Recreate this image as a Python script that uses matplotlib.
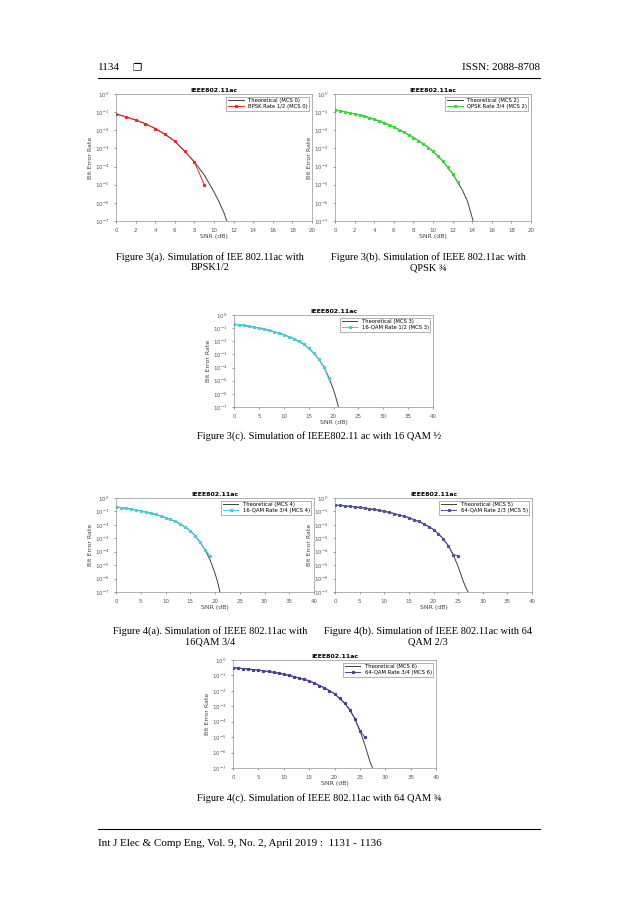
import matplotlib
matplotlib.use("Agg")
import matplotlib.pyplot as plt

W, H = 638, 902

# theoretical curves (SNR dB, BER)
th3a_x = [0, 1, 2, 3, 4, 5, 6, 7, 8, 9, 10, 10.5, 11, 11.3]
th3a_y = [8e-2, 5.5e-2, 3.7e-2, 2.3e-2, 1.25e-2, 6e-3, 2.5e-3, 7e-4, 1.8e-4, 3.5e-5, 4e-6, 1.2e-6, 3e-7, 1e-7]
sim3a_x = [0, 1, 2, 3, 4, 5, 6, 7, 8, 9]
sim3a_y = [8e-2, 5.5e-2, 3.7e-2, 2.3e-2, 1.25e-2, 6e-3, 2.5e-3, 7e-4, 1.8e-4, 1e-5]

th3b_x = [0, 1, 2, 3, 4, 5, 6, 7, 8, 9, 10, 11, 12, 13, 13.5, 14.1]
th3b_y = [1.3e-1, 1.05e-1, 8e-2, 6e-2, 4e-2, 2.6e-2, 1.5e-2, 8e-3, 4e-3, 1.8e-3, 7e-4, 2e-4, 4e-5, 5e-6, 1.3e-6, 1e-7]
sim3b_x = [0, 0.5, 1, 1.5, 2, 2.5, 3, 3.5, 4, 4.5, 5, 5.5, 6, 6.5, 7, 7.5, 8, 8.5, 9, 9.5, 10, 10.5, 11, 11.5, 12, 12.5]
sim3b_y = [1.3e-1, 1.2e-1, 1.05e-1, 9.2e-2, 8e-2, 7e-2, 6e-2, 5e-2, 4e-2, 3.3e-2, 2.6e-2, 2e-2, 1.5e-2, 1.1e-2, 8e-3, 5.7e-3,
           4e-3, 2.7e-3, 1.8e-3, 1.1e-3, 7e-4, 3.8e-4, 2e-4, 9e-5, 4e-5, 1.5e-5]

th3c_x = [0, 2, 4, 6, 8, 10, 12, 14, 15, 16, 17, 18, 19, 20, 20.5, 21]
th3c_y = [2e-1, 1.6e-1, 1.2e-1, 8.5e-2, 5.5e-2, 3.2e-2, 1.6e-2, 6e-3, 3e-3, 1.3e-3, 4.5e-4, 1.2e-4, 2e-5, 2e-6, 5e-7, 1e-7]
sim3c_x = [0, 1, 2, 3, 4, 5, 6, 7, 8, 9, 10, 11, 12, 13, 14, 15, 16, 17, 18, 19]
sim3c_y = [2e-1, 1.8e-1, 1.6e-1, 1.4e-1, 1.2e-1, 1e-1, 8.5e-2, 7e-2, 5.5e-2, 4.3e-2, 3.2e-2, 2.3e-2, 1.6e-2, 1e-2, 6e-3,
           3e-3, 1.3e-3, 4.5e-4, 1.2e-4, 1.5e-5]

th4a_x = [0, 2, 4, 6, 8, 10, 12, 14, 15, 16, 17, 18, 19, 20, 20.5, 21]
th4a_y = [2.2e-1, 1.7e-1, 1.3e-1, 9e-2, 6e-2, 3.5e-2, 1.8e-2, 7e-3, 3.5e-3, 1.5e-3, 5e-4, 1.4e-4, 2.5e-5, 2.5e-6, 6e-7, 1e-7]
sim4a_x = [0, 1, 2, 3, 4, 5, 6, 7, 8, 9, 10, 11, 12, 13, 14, 15, 16, 17, 18, 19]
sim4a_y = [2.2e-1, 1.9e-1, 1.7e-1, 1.5e-1, 1.3e-1, 1.1e-1, 9e-2, 7.5e-2, 6e-2, 4.7e-2, 3.5e-2, 2.6e-2, 1.8e-2, 1.1e-2,
           7e-3, 3.5e-3, 1.5e-3, 5e-4, 1.4e-4, 5e-5]

th4b_x = [0, 3, 6, 9, 12, 15, 18, 20, 22, 23, 24, 25, 26, 26.5, 27]
th4b_y = [3e-1, 2.4e-1, 1.8e-1, 1.2e-1, 7e-2, 3.5e-2, 1.2e-2, 4.5e-3, 9e-4, 2.8e-4, 6e-5, 8e-6, 7e-7, 2.5e-7, 1e-7]
sim4b_x = [0, 1, 2, 3, 4, 5, 6, 7, 8, 9, 10, 11, 12, 13, 14, 15, 16, 17, 18, 19, 20, 21, 22, 23, 24, 25]
sim4b_y = [3e-1, 2.8e-1, 2.6e-1, 2.4e-1, 2.2e-1, 2e-1, 1.8e-1, 1.6e-1, 1.4e-1, 1.2e-1, 1.05e-1, 8.7e-2, 7e-2, 5.5e-2,
           4.4e-2, 3.5e-2, 2.5e-2, 1.8e-2, 1.2e-2, 7.5e-3, 4.5e-3, 2.2e-3, 9e-4, 2.8e-4, 6e-5, 5e-5]

th4c_x = [0, 3, 6, 9, 12, 15, 18, 20, 22, 23, 24, 25, 26, 27, 27.5]
th4c_y = [3.2e-1, 2.6e-1, 2e-1, 1.4e-1, 8.5e-2, 4.5e-2, 1.6e-2, 6.5e-3, 1.6e-3, 6e-4, 1.6e-4, 2.8e-5, 3e-6, 2.5e-7, 1e-7]
sim4c_x = [0, 1, 2, 3, 4, 5, 6, 7, 8, 9, 10, 11, 12, 13, 14, 15, 16, 17, 18, 19, 20, 21, 22, 23, 24, 25, 26]
sim4c_y = [3.2e-1, 3e-1, 2.8e-1, 2.6e-1, 2.4e-1, 2.2e-1, 2e-1, 1.8e-1, 1.6e-1, 1.4e-1, 1.2e-1, 1e-1, 8.5e-2, 6.8e-2,
           5.5e-2, 4.5e-2, 3.2e-2, 2.2e-2, 1.6e-2, 1e-2, 6.5e-3, 3.2e-3, 1.6e-3, 6e-4, 1.6e-4, 2.5e-5, 1e-5]

panels = [
    # (box px: left, top, right, bottom), xmax, xticks step, th, sim, legend labels, colour
    ((116, 94, 312, 221), 20, 2, (th3a_x, th3a_y), (sim3a_x, sim3a_y),
     ("Theoretical (MCS 0)", "BPSK Rate 1/2 (MCS 0)"), "#ff2020"),
    ((335, 94, 531, 221), 20, 2, (th3b_x, th3b_y), (sim3b_x, sim3b_y),
     ("Theoretical (MCS 2)", "QPSK Rate 3/4 (MCS 2)"), "#30e030"),
    ((234, 315, 433, 407), 40, 5, (th3c_x, th3c_y), (sim3c_x, sim3c_y),
     ("Theoretical (MCS 3)", "16-QAM Rate 1/2 (MCS 3)"), "#40d0e0"),
    ((116, 498, 314, 592), 40, 5, (th4a_x, th4a_y), (sim4a_x, sim4a_y),
     ("Theoretical (MCS 4)", "16-QAM Rate 3/4 (MCS 4)"), "#40d0e0"),
    ((335, 498, 532, 592), 40, 5, (th4b_x, th4b_y), (sim4b_x, sim4b_y),
     ("Theoretical (MCS 5)", "64-QAM Rate 2/3 (MCS 5)"), "#5050a0"),
    ((233, 660, 436, 768), 40, 5, (th4c_x, th4c_y), (sim4c_x, sim4c_y),
     ("Theoretical (MCS 6)", "64-QAM Rate 3/4 (MCS 6)"), "#4040a0"),
]

captions = [
    (210, 262, "Figure 3(a). Simulation of IEE 802.11ac with\nBPSK1/2"),
    (428, 262, "Figure 3(b). Simulation of IEEE 802.11ac with\nQPSK ¾"),
    (319, 436, "Figure 3(c). Simulation of IEEE802.11 ac with 16 QAM ½"),
    (210, 636, "Figure 4(a). Simulation of IEEE 802.11ac with\n16QAM 3/4"),
    (428, 636, "Figure 4(b). Simulation of IEEE 802.11ac with 64\nQAM 2/3"),
    (319, 798, "Figure 4(c). Simulation of IEEE 802.11ac with 64 QAM ¾"),
]

serif = ["Liberation Serif", "DejaVu Serif"]
fig = plt.figure(figsize=(W / 100, H / 100), dpi=100)

# page header / footer
fig.text(98 / W, 1 - 68 / H, "1134", fontsize=8, family=serif, va="center")
fig.text(132 / W, 1 - 68 / H, "❐", fontsize=7.5, family=["DejaVu Sans"], va="center")
fig.text(540 / W, 1 - 68 / H, "ISSN: 2088-8708", fontsize=8, family=serif, va="center", ha="right")
fig.add_artist(plt.Line2D([98 / W, 540 / W], [1 - 78 / H] * 2, color="black", lw=0.8))
fig.add_artist(plt.Line2D([98 / W, 540 / W], [1 - 829 / H] * 2, color="black", lw=0.8))
fig.text(98 / W, 1 - 843 / H, "Int J Elec & Comp Eng, Vol. 9, No. 2, April 2019 :  1131 - 1136",
         fontsize=8, family=serif, va="center")

for (l, t, r, b), xmax, step, th, sim, labels, col in panels:
    ax = fig.add_axes([l / W, 1 - b / H, (r - l) / W, (b - t) / H])
    ax.semilogy(th[0], th[1], color="#404040", lw=0.7, label=labels[0])
    ax.semilogy(sim[0], sim[1], color=col, lw=0.7, marker="*", ms=2, label=labels[1])
    ax.set_xlim(0, xmax)
    ax.set_ylim(1e-7, 1)
    ax.set_xticks(range(0, xmax + 1, step))
    ax.set_yticks([10.0 ** k for k in range(-7, 1)])
    ax.minorticks_off()
    ax.tick_params(labelsize=4, length=1.5, width=0.4, colors="#555555")
    for s in ax.spines.values():
        s.set_linewidth(0.4)
        s.set_color("#777777")
    ax.set_title("IEEE802.11ac", fontsize=4.5, fontweight="bold", pad=1.5)
    ax.set_xlabel("SNR (dB)", fontsize=4.5, labelpad=0.5, color="#444444")
    ax.set_ylabel("Bit Error Rate", fontsize=4.5, labelpad=1, color="#444444")
    ax.legend(loc="upper right", fontsize=3.8, frameon=True, fancybox=False, edgecolor="#555555",
              borderpad=0.3, handlelength=3, labelspacing=0.2).get_frame().set_linewidth(0.4)

for x, y, txt in captions:
    fig.text(x / W, 1 - y / H, txt, fontsize=7.5, family=serif, ha="center", va="center",
             linespacing=1.2)

fig.savefig("out.png", dpi=100)
